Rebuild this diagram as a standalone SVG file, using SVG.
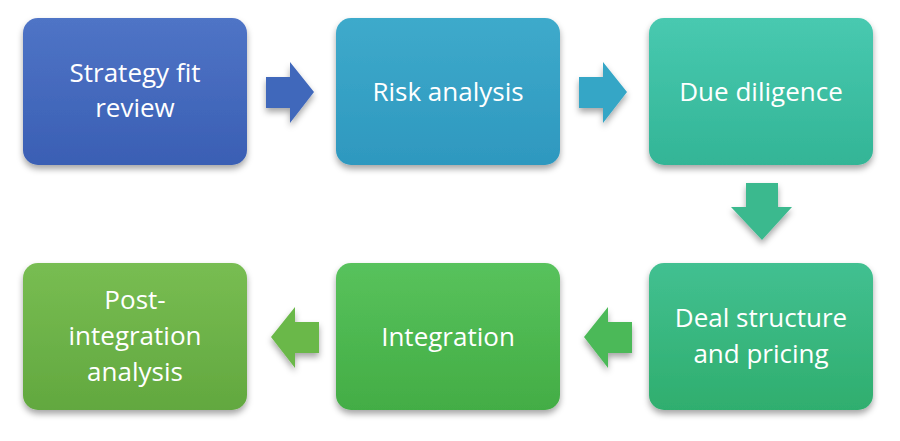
<svg xmlns="http://www.w3.org/2000/svg" width="900" height="441" viewBox="0 0 900 441">
<defs>
<linearGradient id="g1" x1="0" y1="0" x2="0" y2="1"><stop offset="0" stop-color="#4f74c6"/><stop offset="1" stop-color="#3a5fb4"/></linearGradient>
<linearGradient id="g2" x1="0" y1="0" x2="0" y2="1"><stop offset="0" stop-color="#3eaacb"/><stop offset="1" stop-color="#2e98bf"/></linearGradient>
<linearGradient id="g3" x1="0" y1="0" x2="0" y2="1"><stop offset="0" stop-color="#48c9b0"/><stop offset="1" stop-color="#33b596"/></linearGradient>
<linearGradient id="g4" x1="0" y1="0" x2="0" y2="1"><stop offset="0" stop-color="#42c091"/><stop offset="1" stop-color="#2fae6e"/></linearGradient>
<linearGradient id="g5" x1="0" y1="0" x2="0" y2="1"><stop offset="0" stop-color="#58c25c"/><stop offset="1" stop-color="#43ad45"/></linearGradient>
<linearGradient id="g6" x1="0" y1="0" x2="0" y2="1"><stop offset="0" stop-color="#78bd52"/><stop offset="1" stop-color="#62a83f"/></linearGradient>
<filter id="sh" x="-10%" y="-10%" width="120%" height="130%"><feDropShadow dx="0" dy="4" stdDeviation="3" flood-color="#000" flood-opacity="0.35"/></filter>
<style>
.b{filter:url(#sh)}
.t{font-family:"Open Sans","Liberation Sans",sans-serif;font-size:26px;fill:#fff;text-anchor:middle}
</style>
</defs>
<g id="n1"><rect class="b" x="23" y="18" width="224" height="147" rx="15" fill="url(#g1)"/><text class="t" x="135" y="82">Strategy fit</text><text class="t" x="135" y="117">review</text></g>
<g id="n2"><rect class="b" x="336" y="18" width="224" height="147" rx="15" fill="url(#g2)"/><text class="t" x="448" y="101">Risk analysis</text></g>
<g id="n3"><rect class="b" x="649" y="18" width="224" height="147" rx="15" fill="url(#g3)"/><text class="t" x="761" y="101">Due diligence</text></g>
<g id="n4"><rect class="b" x="649" y="263" width="224" height="147" rx="15" fill="url(#g4)"/><text class="t" x="761" y="327">Deal structure</text><text class="t" x="761" y="363">and pricing</text></g>
<g id="n5"><rect class="b" x="336" y="263" width="224" height="147" rx="15" fill="url(#g5)"/><text class="t" x="448" y="346">Integration</text></g>
<g id="n6"><rect class="b" x="23" y="263" width="224" height="147" rx="15" fill="url(#g6)"/><text class="t" x="135" y="309">Post-</text><text class="t" x="135" y="345">integration</text><text class="t" x="135" y="381">analysis</text></g>
<g id="connectors" filter="url(#sh)">
<polygon points="266,77 290,77 290,62 314,92 290,123 290,108 266,108" fill="#4168bb"/>
<polygon points="579,77 603,77 603,62 627,92 603,123 603,108 579,108" fill="#35a6c6"/>
<polygon points="746,183 778,183 778,207 792,207 762,240 731,207 746,207" fill="#3bb98e"/>
<polygon points="632,322 608,322 608,307 584,337 608,368 608,353 632,353" fill="#4cb958"/>
<polygon points="319,322 295,322 295,307 271,337 295,368 295,353 319,353" fill="#6bb84a"/>
</g>
</svg>
